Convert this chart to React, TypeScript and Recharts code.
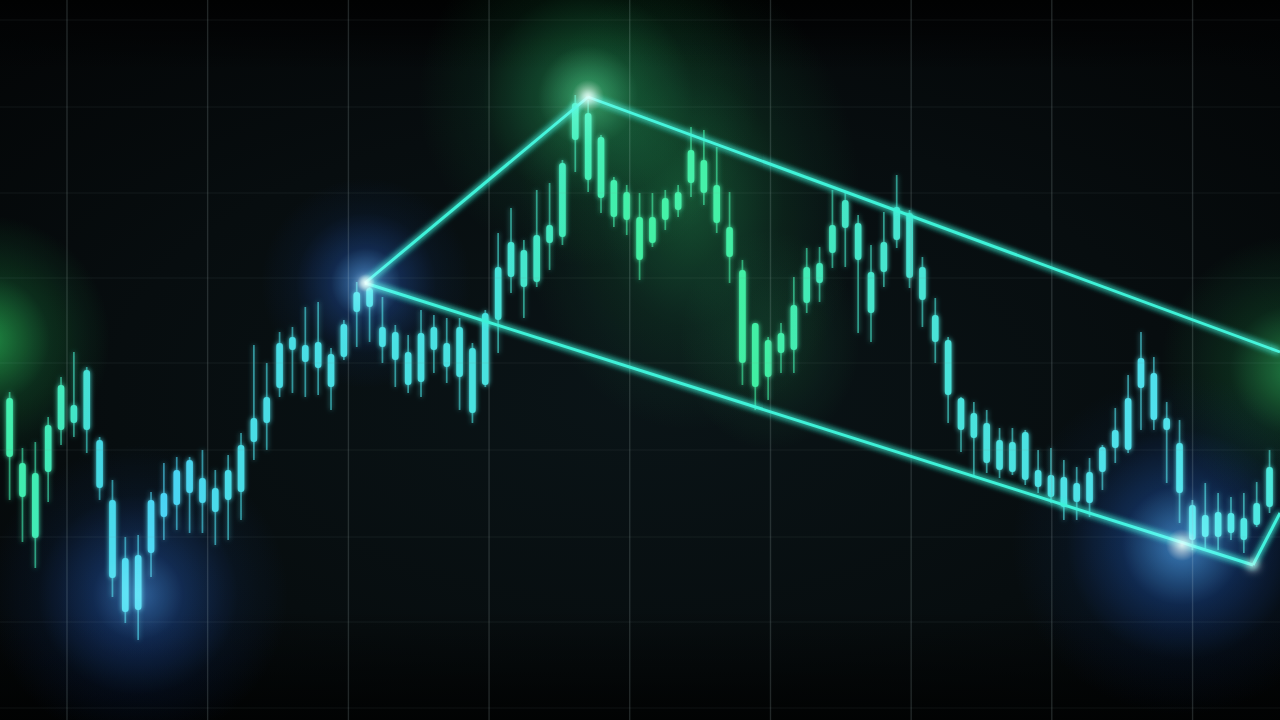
import React from "react";
import { Bar, ComposedChart, ReferenceDot, ReferenceLine, XAxis, YAxis } from "recharts";

// candle prices, one entry per session (left to right)
const opens = [
  32.2, 25.7, 18.2, 24.8, 29.0, 31.5, 29.0, 28.0, 22.0, 16.2, 11.0, 16.7, 20.3, 21.5, 22.7, 24.2, 20.8, 22.0, 22.8, 27.8,
  29.7, 33.2, 37.0, 37.5, 35.2, 36.6, 36.3, 40.8, 43.2, 39.3, 38.8, 36.8, 33.8, 39.3, 37.7, 34.3, 37.2, 33.5, 40.0, 44.3,
  47.0, 43.8, 47.7, 48.3, 58.0, 60.7, 58.3, 54.0, 52.8, 50.3, 47.7, 50.0, 51.0, 53.7, 56.0, 53.5, 49.3, 45.0, 39.7, 34.3,
  36.7, 37.0, 41.7, 43.7, 46.7, 49.2, 49.7, 44.8, 44.8, 48.0, 50.7, 45.3, 40.5, 38.0, 32.2, 30.7, 29.7, 28.0, 24.8, 28.8,
  25.0, 24.5, 24.3, 21.8, 21.7, 24.8, 27.2, 27.0, 33.2, 34.7, 30.2, 27.7, 21.5, 18.3, 20.8, 18.7, 20.2, 19.5, 21.3,
];
const highs = [
  32.8, 27.2, 27.8, 30.3, 34.3, 36.8, 35.3, 28.3, 24.0, 18.3, 18.5, 22.8, 25.7, 26.3, 26.3, 27.0, 25.0, 26.5, 28.7, 37.5,
  35.7, 38.8, 39.3, 41.3, 41.8, 37.2, 40.0, 43.8, 43.3, 42.3, 39.5, 38.5, 41.0, 40.5, 40.2, 40.2, 37.7, 41.0, 48.7, 51.2,
  48.0, 53.0, 53.7, 56.0, 62.5, 62.0, 58.5, 54.3, 53.5, 52.7, 52.7, 53.0, 53.5, 59.3, 59.0, 57.3, 52.8, 46.0, 39.7, 38.3,
  39.7, 44.3, 47.2, 47.3, 53.0, 52.8, 50.5, 47.5, 50.8, 54.5, 51.0, 46.3, 42.2, 38.3, 32.3, 31.8, 31.0, 29.2, 29.2, 29.0,
  27.0, 27.2, 26.0, 25.3, 26.2, 27.5, 31.2, 34.5, 38.8, 36.3, 31.8, 30.0, 22.0, 23.7, 22.7, 22.3, 22.7, 23.8, 27.0,
];
const lows = [
  22.0, 17.8, 15.2, 21.8, 27.5, 28.3, 26.7, 22.0, 12.3, 9.7, 8.0, 14.3, 18.0, 19.0, 18.7, 18.7, 17.5, 18.0, 20.0, 26.0,
  27.0, 32.3, 32.7, 32.3, 32.5, 31.0, 36.0, 37.3, 37.8, 35.7, 33.3, 32.7, 32.3, 34.7, 33.7, 31.0, 29.7, 33.3, 36.7, 42.7,
  40.2, 43.3, 45.0, 47.5, 54.8, 52.8, 50.7, 49.3, 48.5, 44.0, 47.3, 49.0, 50.3, 52.3, 51.5, 48.7, 43.7, 33.5, 31.0, 32.0,
  34.7, 34.7, 40.7, 41.8, 45.2, 45.3, 38.7, 37.8, 43.3, 47.2, 43.2, 39.3, 35.7, 29.7, 26.8, 24.5, 24.7, 24.2, 24.5, 23.5,
  22.7, 21.7, 20.0, 20.0, 20.3, 23.0, 25.7, 26.7, 29.0, 29.0, 23.7, 19.7, 17.0, 17.0, 17.0, 18.0, 16.7, 19.3, 20.7,
];
const closes = [
  26.3, 22.3, 24.7, 29.5, 33.5, 29.7, 35.0, 23.2, 14.2, 10.8, 16.5, 22.0, 22.7, 25.0, 26.0, 21.7, 23.2, 25.0, 27.5, 30.2,
  32.3, 37.7, 38.3, 35.8, 37.8, 33.3, 39.6, 42.8, 41.3, 37.3, 36.0, 33.5, 38.7, 37.0, 35.3, 39.3, 30.7, 40.7, 45.3, 47.8,
  43.3, 48.5, 49.5, 55.7, 61.7, 54.0, 52.2, 50.3, 50.0, 46.0, 50.3, 52.2, 52.8, 57.0, 52.7, 49.7, 46.3, 35.7, 33.3, 38.0,
  38.7, 41.5, 45.3, 45.7, 49.5, 52.0, 46.0, 40.7, 47.8, 51.3, 44.2, 42.0, 37.8, 32.5, 29.0, 28.2, 25.7, 25.0, 27.8, 24.0,
  23.3, 22.3, 21.3, 23.7, 24.8, 27.3, 29.0, 32.2, 36.2, 30.0, 29.0, 22.7, 18.0, 20.5, 18.3, 20.7, 18.0, 21.7, 25.3,
];

// trend channel, drawn as one polyline: right edge -> bottom pivot -> left pivot -> peak -> right edge
const channelIdx = [98.78, 96.68, 27.61, 44.96, 98.78];
const channelPrice = [20.7, 15.5, 43.7, 62.3, 36.8];

const gridIdx = [4.43, 15.37, 26.32, 37.26, 48.2, 59.15, 70.09, 81.03, 91.98];
const gridPrice = [70.0, 61.3, 52.7, 44.2, 35.7, 27.0, 18.3, 9.8, 1.2];

const data = opens.map((o, i) => ({
  i,
  o,
  h: highs[i],
  l: lows[i],
  c: closes[i],
  range: [lows[i], highs[i]],
}));

const channel = channelIdx.map((x, k) => ({ x, y: channelPrice[k] }));
const segments = channel.slice(1).map((p, k) => [channel[k], p]);

const W = 1280;
const H = 720;

function Candle(props: any) {
  const { x, y, width, height, payload } = props;
  if (payload == null || !isFinite(y)) return null;
  const top = Math.min(y, y + height);
  const full = Math.abs(height);
  const cx = x + width / 2;
  const pxPer = full / Math.max(payload.h - payload.l, 0.01);
  const bodyTop = top + (payload.h - Math.max(payload.o, payload.c)) * pxPer;
  const bodyH = Math.max(Math.abs(payload.o - payload.c) * pxPer, 4);
  return (
    <g filter="url(#candleGlow)">
      <line x1={cx} x2={cx} y1={top} y2={top + full} stroke="url(#wickFill)" strokeWidth={1.7} />
      <rect x={cx - 3.3} y={bodyTop} width={6.6} height={bodyH} rx={3} fill="url(#candleFill)" />
    </g>
  );
}

const colorStops: [number, string][] = [
  [0, "#3ff0a8"],
  [0.05, "#42e8bc"],
  [0.08, "#45d8e6"],
  [0.13, "#4ad2f4"],
  [0.18, "#48dce6"],
  [0.38, "#48e2e0"],
  [0.44, "#40eab8"],
  [0.5, "#3cee9c"],
  [0.6, "#3cec9e"],
  [0.66, "#44e6c6"],
  [0.75, "#4ae2dc"],
  [0.9, "#50e0ec"],
  [1, "#4ae8d8"],
];

const glowLayer = [
  "radial-gradient(circle at 588px 96px, rgba(200,255,220,0.85) 0px, rgba(70,230,140,0.55) 16px, rgba(35,190,100,0.3) 50px, rgba(20,130,65,0.12) 105px, rgba(0,0,0,0) 170px)",
  "radial-gradient(ellipse 170px 230px at 690px 200px, rgba(30,160,80,0.42) 0%, rgba(18,105,52,0.18) 55%, rgba(0,0,0,0) 100%)",
  "radial-gradient(ellipse 90px 110px at 770px 340px, rgba(25,130,65,0.25) 0%, rgba(0,0,0,0) 100%)",
  "radial-gradient(circle at 366px 283px, rgba(230,245,255,0.9) 0px, rgba(80,160,255,0.6) 9px, rgba(35,100,230,0.28) 35px, rgba(15,55,150,0.1) 70px, rgba(0,0,0,0) 105px)",
  "radial-gradient(circle at 138px 595px, rgba(70,150,250,0.6) 0px, rgba(35,100,220,0.32) 45px, rgba(15,55,140,0.12) 100px, rgba(0,0,0,0) 150px)",
  "radial-gradient(circle at 1182px 545px, rgba(235,250,255,0.9) 0px, rgba(70,160,255,0.6) 16px, rgba(30,100,225,0.3) 60px, rgba(12,55,140,0.1) 115px, rgba(0,0,0,0) 170px)",
  "radial-gradient(circle at -15px 340px, rgba(40,210,90,0.65) 0px, rgba(22,140,62,0.25) 65px, rgba(0,0,0,0) 125px)",
  "radial-gradient(circle at 1295px 370px, rgba(45,200,95,0.6) 0px, rgba(22,130,62,0.22) 65px, rgba(0,0,0,0) 135px)",
].join(", ");

export default function App() {
  return (
    <div
      style={{
        position: "absolute",
        left: 0,
        top: 0,
        width: W,
        height: H,
        overflow: "hidden",
        background:
          "linear-gradient(180deg, #010202 0px, #020304 20px, rgba(0,0,0,0) 70px), linear-gradient(0deg, rgba(1,2,2,0.9) 0px, rgba(0,0,0,0) 110px), radial-gradient(ellipse 75% 70% at 50% 55%, #0a1417 0%, #070d0f 55%, #030506 100%)",
      }}
    >
      <style>{`.chan-glow { filter: url(#lineGlow); } .dot-glow { filter: url(#dotGlow); }`}</style>
      <ComposedChart width={W} height={H} data={data} margin={{ top: 0, right: 0, bottom: 0, left: 0 }}>
        <defs>
          <linearGradient id="candleFill" gradientUnits="userSpaceOnUse" x1={0} y1={0} x2={W} y2={0}>
            {colorStops.map(([o, c]) => (
              <stop key={o} offset={o} stopColor={c} />
            ))}
          </linearGradient>
          <linearGradient id="wickFill" gradientUnits="userSpaceOnUse" x1={0} y1={0} x2={W} y2={0}>
            {colorStops.map(([o, c]) => (
              <stop key={o} offset={o} stopColor={c} stopOpacity={0.6} />
            ))}
          </linearGradient>
          <filter id="candleGlow" x="-200%" y="-20%" width="500%" height="140%">
            <feGaussianBlur stdDeviation="2.4" result="b" />
            <feMerge>
              <feMergeNode in="b" />
              <feMergeNode in="SourceGraphic" />
            </feMerge>
          </filter>
          <filter id="lineGlow" x="-10%" y="-10%" width="120%" height="120%">
            <feGaussianBlur stdDeviation="3.2" result="b" />
            <feMerge>
              <feMergeNode in="b" />
              <feMergeNode in="b" />
              <feMergeNode in="SourceGraphic" />
            </feMerge>
          </filter>
          <filter id="dotGlow" x="-300%" y="-300%" width="700%" height="700%">
            <feGaussianBlur stdDeviation="4" />
          </filter>
        </defs>
        <XAxis dataKey="i" type="number" domain={[-0.78, 98.78]} allowDataOverflow hide />
        <YAxis type="number" domain={[0, 72]} allowDataOverflow hide />

        {gridIdx.map((x) => (
          <ReferenceLine key={"gx" + x} x={x} stroke="#8a9a9a" strokeOpacity={0.24} strokeWidth={1.4} />
        ))}
        {gridPrice.map((y) => (
          <ReferenceLine key={"gy" + y} y={y} stroke="#7f9090" strokeOpacity={0.08} strokeWidth={1.4} />
        ))}

        <Bar dataKey="range" barSize={6} shape={<Candle />} isAnimationActive={false} />

        {segments.map((seg, k) => (
          <ReferenceLine
            key={"ch" + k}
            segment={seg}
            stroke="#3ef2d8"
            strokeWidth={2.9}
            className="chan-glow"
            ifOverflow="visible"
          />
        ))}
        {channel.slice(1, 4).map((p, k) => (
          <ReferenceDot
            key={"pv" + k}
            x={p.x}
            y={p.y}
            r={5}
            fill="#eafff8"
            stroke="none"
            className="dot-glow"
            ifOverflow="visible"
          />
        ))}
      </ComposedChart>
      <div
        style={{
          position: "absolute",
          left: 0,
          top: 0,
          width: W,
          height: H,
          pointerEvents: "none",
          mixBlendMode: "screen",
          background: glowLayer,
        }}
      />
    </div>
  );
}
